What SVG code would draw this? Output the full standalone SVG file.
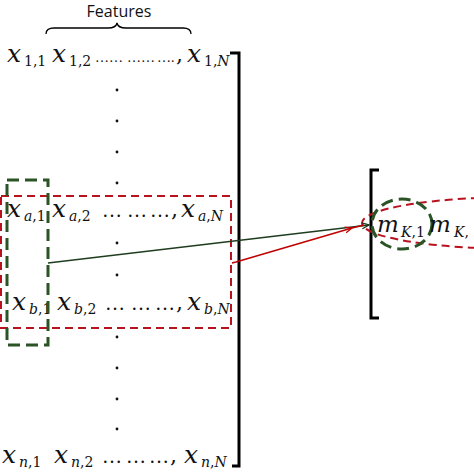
<svg xmlns="http://www.w3.org/2000/svg" width="474" height="474" viewBox="0 0 474 474">
<defs>
<style>
.v{font-family:"DejaVu Serif","Liberation Serif",serif;font-style:italic;font-size:25px;fill:#111}
.s{font-family:"DejaVu Serif","Liberation Serif",serif;font-size:14px;fill:#111}
.si{font-style:italic}
.d{font-family:"Liberation Serif",serif;font-size:14px;fill:#111}
.d3{font-family:"Liberation Serif",serif;font-size:20px;fill:#111}
.c{font-family:"DejaVu Serif",serif;font-size:22px;fill:#111}
.lbl{font-family:"Open Sans","Liberation Sans",sans-serif;font-size:16px;fill:#111}
.br{fill:none;stroke:#000;stroke-width:3}
.rd{fill:none;stroke:#b8121f;stroke-width:2;stroke-dasharray:8 5}
.gd{fill:none;stroke:#2a5326;stroke-width:3;stroke-dasharray:12 6}
.dot{fill:#111}
</style>
<marker id="ag" markerWidth="8" markerHeight="8" refX="7" refY="4" orient="auto" markerUnits="userSpaceOnUse">
<path d="M0,1 L7,4 L0,7" fill="none" stroke="#1f3d1f" stroke-width="1.3"/>
</marker>
<marker id="ar" markerWidth="8" markerHeight="8" refX="7" refY="4" orient="auto" markerUnits="userSpaceOnUse">
<path d="M0,1 L7,4 L0,7" fill="none" stroke="#c00000" stroke-width="1.3"/>
</marker>
</defs>

<g id="features">
<text class="lbl" x="119" y="17" text-anchor="middle">Features</text>
<path d="M46,34 Q46,28 54,28 L108,28 Q116,28 117,23 Q118,28 126,28 L183,28 Q191,28 191,34" fill="none" stroke="#000" stroke-width="1.3"/>
</g>

<g id="matrix-X">
<path class="br" d="M230,53 L239,53 L239,466 L232,466"/>
<g id="row-1">
<text class="v" x="7" y="62">x</text><text class="s" x="24" y="66">1,1</text>
<text class="v" x="52" y="62">x</text><text class="s" x="69" y="66">1,2</text>
<text class="d" x="95" y="62">……</text>
<text class="d" x="127" y="62">……</text>
<text class="d" x="157" y="62">….</text>
<text class="c" x="176" y="62">,</text>
<text class="v" x="187" y="62">x</text><text class="s" x="204" y="66">1,<tspan class="si">N</tspan></text>
</g>
<g id="row-a">
<text class="v" x="7" y="217">x</text><text class="s" x="24" y="221"><tspan class="si">a</tspan>,1</text>
<text class="v" x="52" y="217">x</text><text class="s" x="69" y="221"><tspan class="si">a</tspan>,2</text>
<text class="d3" x="102" y="217">…</text>
<text class="d3" x="127" y="217">…</text>
<text class="d3" x="150" y="217">…</text>
<text class="c" x="171" y="217">,</text>
<text class="v" x="181" y="217">x</text><text class="s" x="198" y="221"><tspan class="si">a</tspan>,<tspan class="si">N</tspan></text>
</g>
<g id="row-b">
<text class="v" x="12" y="310">x</text><text class="s" x="29" y="314"><tspan class="si">b</tspan>,1</text>
<text class="v" x="57" y="310">x</text><text class="s" x="74" y="314"><tspan class="si">b</tspan>,2</text>
<text class="d3" x="105" y="310">…</text>
<text class="d3" x="131" y="310">…</text>
<text class="d3" x="155" y="310">…</text>
<text class="c" x="176" y="310">,</text>
<text class="v" x="187" y="310">x</text><text class="s" x="204" y="314"><tspan class="si">b</tspan>,<tspan class="si">N</tspan></text>
</g>
<g id="row-n">
<text class="v" x="2" y="463">x</text><text class="s" x="19" y="467"><tspan class="si">n</tspan>,1</text>
<text class="v" x="54" y="463">x</text><text class="s" x="71" y="467"><tspan class="si">n</tspan>,2</text>
<text class="d3" x="102" y="463">…</text>
<text class="d3" x="126" y="463">…</text>
<text class="d3" x="149" y="463">…</text>
<text class="c" x="170" y="463">,</text>
<text class="v" x="184" y="463">x</text><text class="s" x="201" y="467"><tspan class="si">n</tspan>,<tspan class="si">N</tspan></text>
</g>
<g id="vdots">
<circle class="dot" cx="117" cy="90" r="1.4"/>
<circle class="dot" cx="117" cy="121" r="1.4"/>
<circle class="dot" cx="117" cy="152" r="1.4"/>
<circle class="dot" cx="117" cy="183" r="1.4"/>
<circle class="dot" cx="117" cy="243" r="1.4"/>
<circle class="dot" cx="117" cy="275" r="1.4"/>
<circle class="dot" cx="117" cy="337" r="1.4"/>
<circle class="dot" cx="117" cy="368" r="1.4"/>
<circle class="dot" cx="117" cy="399" r="1.4"/>
<circle class="dot" cx="117" cy="429" r="1.4"/>
</g>
</g>

<g id="row-selection">
<rect class="rd" x="1" y="196" width="230" height="132"/>
</g>
<g id="column-selection">
<rect class="gd" x="7" y="180" width="41" height="165"/>
</g>

<g id="matrix-M">
<path class="br" d="M379,170 L371,170 L371,318 L379,318"/>
<ellipse class="rd" cx="520" cy="223" rx="158" ry="26"/>
<ellipse class="gd" cx="402" cy="224" rx="30" ry="25"/>
<text class="v" x="377" y="232" style="font-size:23px">m</text><text class="s" x="401" y="237"><tspan class="si">K</tspan>,1</text>
<text class="v" x="429" y="232" style="font-size:23px">m</text><text class="s" x="454" y="237"><tspan class="si">K</tspan>,</text>
</g>

<g id="connectors">
<line x1="48" y1="263" x2="369" y2="225" stroke="#1f3d1f" stroke-width="1.6" marker-end="url(#ag)"/>
<path d="M232,263 L236,262 L352,228" fill="none" stroke="#c00000" stroke-width="1.6" marker-end="url(#ar)"/>
<line x1="352" y1="228" x2="364" y2="225" stroke="#c00000" stroke-width="1.6"/>
</g>
</svg>
